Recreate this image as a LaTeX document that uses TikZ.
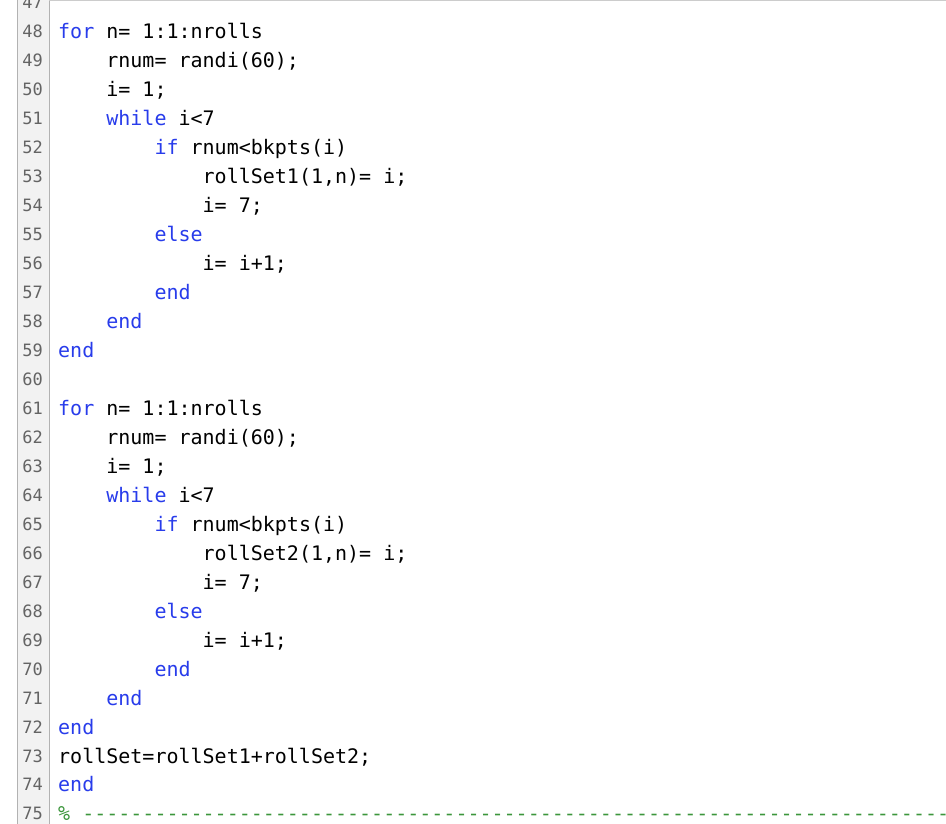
\documentclass[tikz,border=0pt]{standalone}
\usepackage{fontspec}
\newfontfamily\mono{DejaVu Sans Mono}
\definecolor{kw}{RGB}{40,60,235}
\definecolor{cm}{RGB}{60,150,60}
\definecolor{gut}{RGB}{242,242,242}
\definecolor{num}{RGB}{100,100,100}
\begin{document}
\begin{tikzpicture}[x=1pt,y=-1pt,
  code/.style={anchor=base west,inner sep=0,font=\mono\fontsize{20}{20}\selectfont},
  ln/.style={anchor=base east,inner sep=0,text=num,font=\mono\fontsize{17}{17}\selectfont}]
\useasboundingbox (0,0) rectangle (946,824);
\clip (0,0) rectangle (946,824);
\fill[white] (0,0) rectangle (946,824);
\fill[gut] (17,0) rectangle (49,824);
\draw[gray!60] (17,0) -- (17,824);
\draw[gray!60] (49,0) -- (49,824);
\draw[gray!40] (49,0.5) -- (946,0.5);
\def\L#1#2#3{\node[ln] (n#1) at (43,{32+(#1-48)*28.96+6}) {#1};
  \node[code] (c#1) at ({58+#2*12.04},{32+(#1-48)*28.96+7}) {#3};}
\node[ln] (n47) at (43,9) {47};
\L{48}{0}{\textcolor{kw}{for} n= 1:1:nrolls}
\L{49}{4}{rnum= randi(60);}
\L{50}{4}{i= 1;}
\L{51}{4}{\textcolor{kw}{while} i<7}
\L{52}{8}{\textcolor{kw}{if} rnum<bkpts(i)}
\L{53}{12}{rollSet1(1,n)= i;}
\L{54}{12}{i= 7;}
\L{55}{8}{\textcolor{kw}{else}}
\L{56}{12}{i= i+1;}
\L{57}{8}{\textcolor{kw}{end}}
\L{58}{4}{\textcolor{kw}{end}}
\L{59}{0}{\textcolor{kw}{end}}
\L{60}{0}{}
\L{61}{0}{\textcolor{kw}{for} n= 1:1:nrolls}
\L{62}{4}{rnum= randi(60);}
\L{63}{4}{i= 1;}
\L{64}{4}{\textcolor{kw}{while} i<7}
\L{65}{8}{\textcolor{kw}{if} rnum<bkpts(i)}
\L{66}{12}{rollSet2(1,n)= i;}
\L{67}{12}{i= 7;}
\L{68}{8}{\textcolor{kw}{else}}
\L{69}{12}{i= i+1;}
\L{70}{8}{\textcolor{kw}{end}}
\L{71}{4}{\textcolor{kw}{end}}
\L{72}{0}{\textcolor{kw}{end}}
\L{73}{0}{rollSet=rollSet1+rollSet2;}
\L{74}{0}{\textcolor{kw}{end}}
\L{75}{0}{\textcolor{cm}{\% ------------------------------------------------------------------------}}
\end{tikzpicture}
\end{document}
